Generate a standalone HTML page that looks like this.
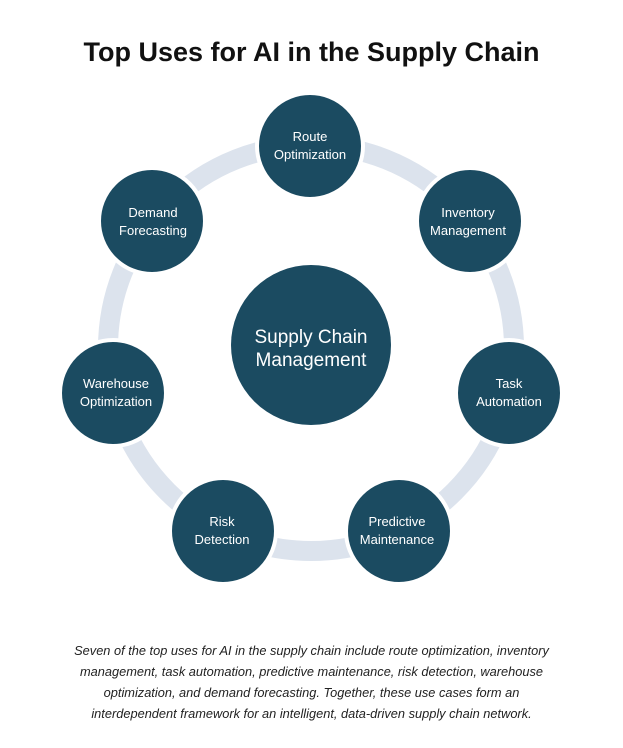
<!DOCTYPE html>
<html><head><style>
body{margin:0;width:623px;height:748px;background:#fff;font-family:"Liberation Sans",sans-serif;position:relative;overflow:hidden}
h1{position:absolute;top:37px;left:0;width:623px;text-align:center;margin:0;font-size:27px;font-weight:bold;color:#111}
.cap{position:absolute;top:640px;left:56px;width:511px;text-align:center;font-style:italic;font-size:12.8px;line-height:21px;color:#222}
</style></head><body>
<h1>Top Uses for AI in the Supply Chain</h1>
<svg width="623" height="748" style="position:absolute;left:0;top:0">
<circle cx="311" cy="348" r="203" fill="none" stroke="#dce3ed" stroke-width="20"/>
<g fill="#1b4b61" stroke="#fff" stroke-width="4">
<circle cx="310" cy="146" r="53"/>
<circle cx="470" cy="221" r="53"/>
<circle cx="509" cy="393" r="53"/>
<circle cx="399" cy="531" r="53"/>
<circle cx="223" cy="531" r="53"/>
<circle cx="113" cy="393" r="53"/>
<circle cx="152" cy="221" r="53"/>
<circle cx="311" cy="345" r="80" stroke="none"/>
</g>
<g fill="#fff" font-family="Liberation Sans, sans-serif" font-size="13" text-anchor="middle">
<text x="310" y="141">Route</text><text x="310" y="159">Optimization</text>
<text x="468" y="217">Inventory</text><text x="468" y="235">Management</text>
<text x="509" y="388">Task</text><text x="509" y="406">Automation</text>
<text x="397" y="526">Predictive</text><text x="397" y="544">Maintenance</text>
<text x="222" y="526">Risk</text><text x="222" y="544">Detection</text>
<text x="116" y="388">Warehouse</text><text x="116" y="406">Optimization</text>
<text x="153" y="217">Demand</text><text x="153" y="235">Forecasting</text>
<text x="311" y="343" font-size="19">Supply Chain</text><text x="311" y="366" font-size="19">Management</text>
</g>
</svg>
<div class="cap">Seven of the top uses for AI in the supply chain include route optimization, inventory<br>management, task automation, predictive maintenance, risk detection, warehouse<br>optimization, and demand forecasting. Together, these use cases form an<br>interdependent framework for an intelligent, data-driven supply chain network.</div>
</body></html>
